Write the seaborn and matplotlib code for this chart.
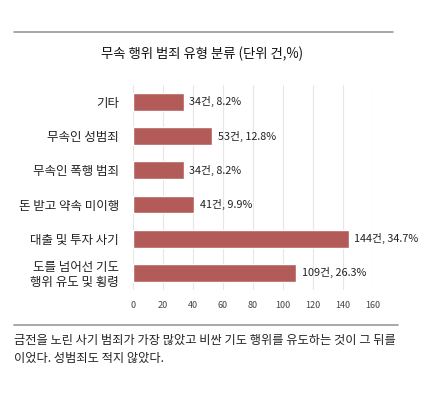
import matplotlib
matplotlib.use("Agg")
import matplotlib.pyplot as plt
import seaborn as sns
import pandas as pd

# data
categories = ["기타", "무속인 성범죄", "무속인 폭행 범죄", "돈 받고 약속 미이행",
              "대출 및 투자 사기", "도를 넘어선 기도\n행위 유도 및 횡령"]
counts = [34, 53, 34, 41, 144, 109]
shares = [8.2, 12.8, 8.2, 9.9, 34.7, 26.3]
xticks = [0, 20, 40, 60, 80, 100, 120, 140, 160]

df = pd.DataFrame({"category": categories, "count": counts})

sns.set_theme(style="white")
plt.rcParams["font.family"] = ["Noto Sans CJK KR", "DejaVu Sans"]

fig = plt.figure(figsize=(4.33, 3.93), dpi=100)
ax = fig.add_axes([0.307, 0.262, 0.554, 0.522])

sns.barplot(data=df, x="count", y="category", orient="h", color="#b35b59",
            saturation=1, width=0.52, ax=ax, zorder=3)

labels = [f"{c}건, {s}%" for c, s in zip(counts, shares)]
ax.bar_label(ax.containers[0], labels=labels, padding=4, fontsize=7.8,
             color="#222222", clip_on=False)

ax.set_xlim(0, 160)
ax.set_ylim(5.5, -0.5)
ax.set_xticks(xticks)
ax.set_xticklabels([str(t) for t in xticks])
ax.grid(axis="x", color="#e6e6e6", linewidth=0.8, zorder=0)
ax.set_xlabel("")
ax.set_ylabel("")
for s in ax.spines.values():
    s.set_visible(False)
ax.tick_params(axis="x", length=0, pad=8, labelsize=6.5, labelcolor="#444444")
ax.tick_params(axis="y", length=0, pad=10, labelsize=9, labelcolor="#222222")

# title, rules and caption
fig.text(0.467, 0.862, "무속 행위 범죄 유형 분류 (단위 건,%)", ha="center", va="center",
         fontsize=9.6, color="#111111")
fig.add_artist(plt.Line2D([0.032, 0.908], [0.918, 0.918], color="#999999", lw=1.2))
fig.add_artist(plt.Line2D([0.032, 0.92], [0.173, 0.173], color="#999999", lw=1.2))
fig.text(0.032, 0.134, "금전을 노린 사기 범죄가 가장 많았고 비싼 기도 행위를 유도하는 것이 그 뒤를",
         ha="left", va="center", fontsize=8.8, color="#222222")
fig.text(0.032, 0.088, "이었다. 성범죄도 적지 않았다.",
         ha="left", va="center", fontsize=8.8, color="#222222")

fig.savefig("out.png", dpi=100)
